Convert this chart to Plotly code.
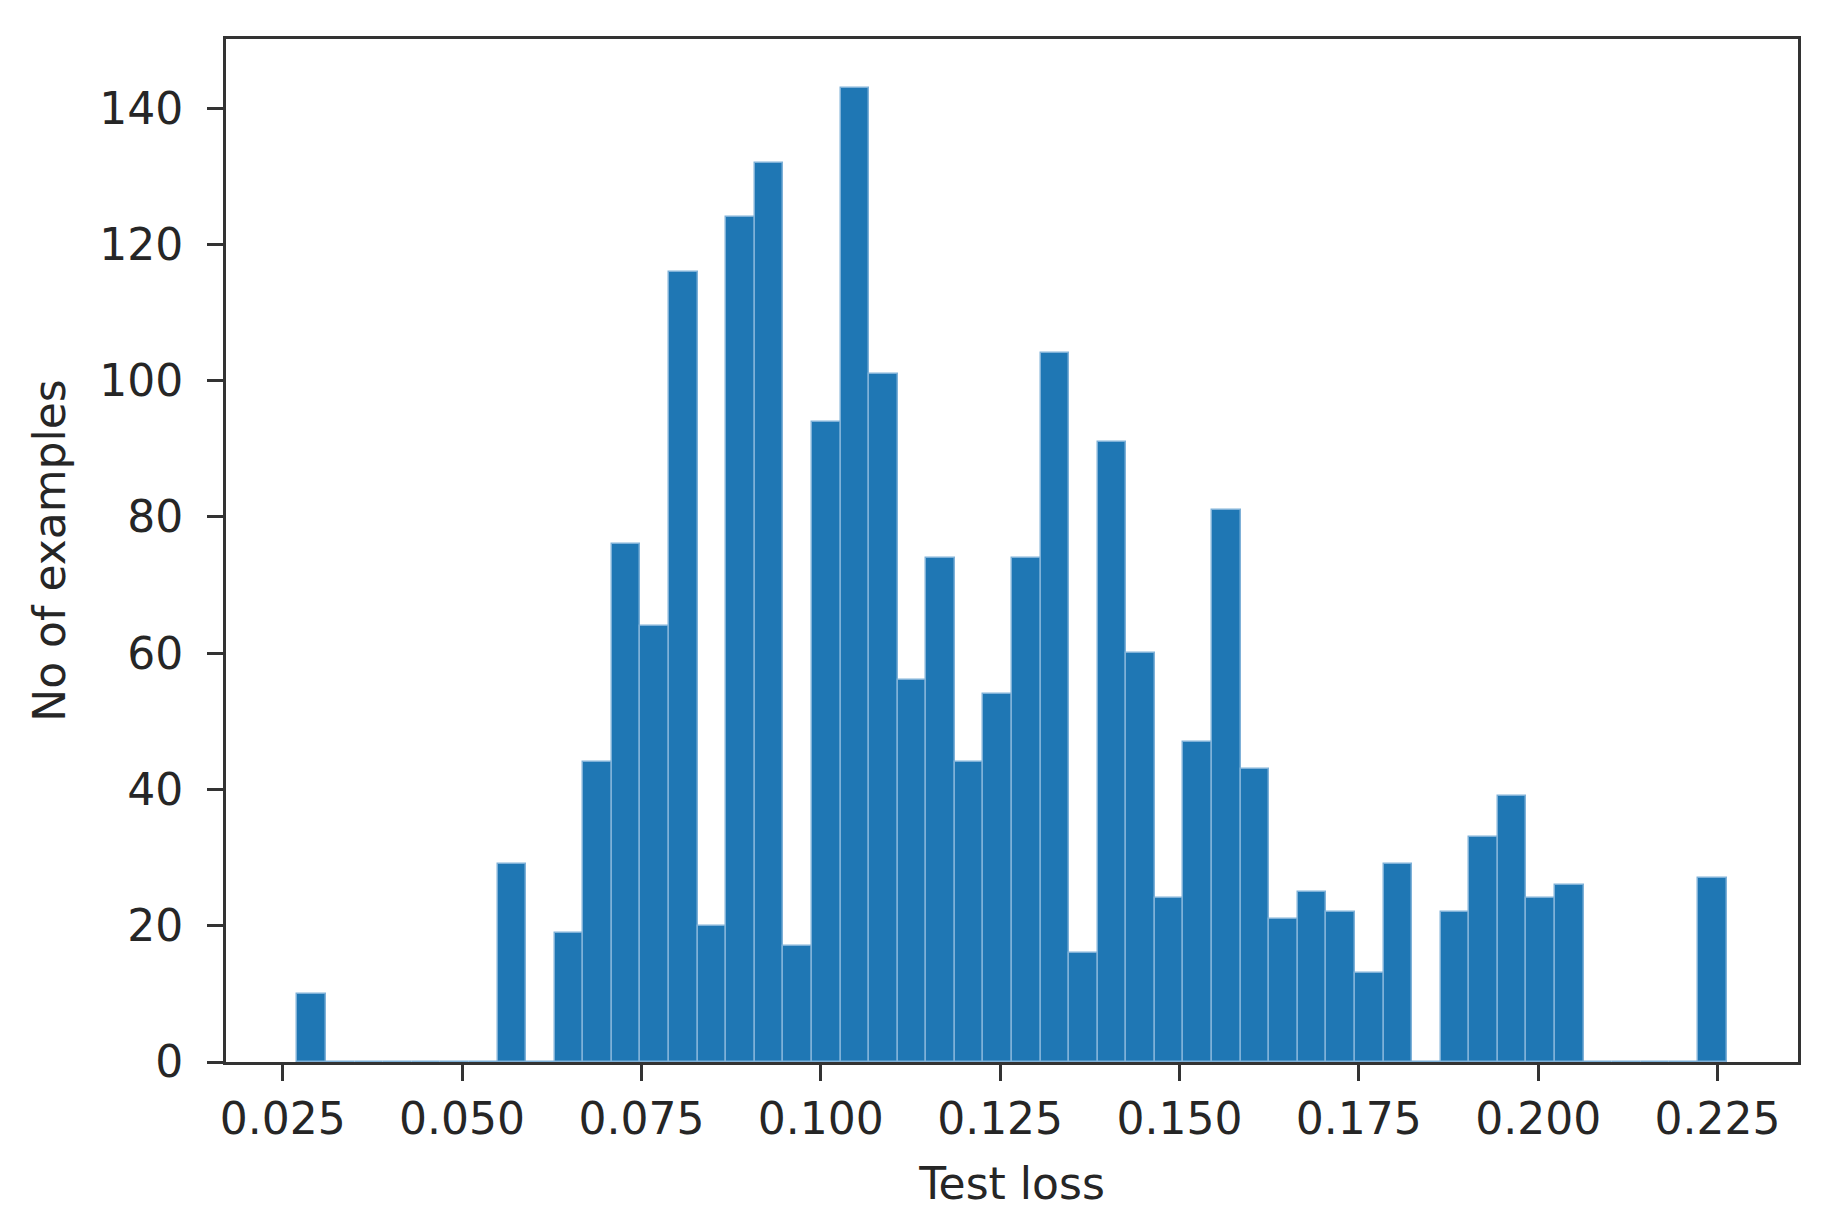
import numpy as np
import plotly.graph_objects as go

# histogram of test loss, 50 bins between the min and max loss
loss_min = 0.02705
loss_max = 0.22626
n_bins = 50
counts = [10, 0, 0, 0, 0, 0, 0, 29, 0, 19,
          44, 76, 64, 116, 20, 124, 132, 17, 94, 143,
          101, 56, 74, 44, 54, 74, 104, 16, 91, 60,
          24, 47, 81, 43, 21, 25, 22, 13, 29, 0,
          22, 33, 39, 24, 26, 0, 0, 0, 0, 27]
x_ticks = [0.025, 0.050, 0.075, 0.100, 0.125, 0.150, 0.175, 0.200, 0.225]
y_ticks = [0, 20, 40, 60, 80, 100, 120, 140]

edges = np.linspace(loss_min, loss_max, n_bins + 1)
centers = (edges[:-1] + edges[1:]) / 2
bin_w = edges[1] - edges[0]

fig = go.Figure(go.Bar(x=centers, y=counts, width=bin_w,
                       marker=dict(color='#1f77b4', line=dict(color='#7fb1d8', width=1.5))))

span = loss_max - loss_min
axis_font = dict(family='DejaVu Sans', size=44, color='#262626')
fig.update_xaxes(range=[loss_min - 0.05 * span, loss_max + 0.05 * span],
                 tickvals=x_ticks, tickformat='.3f',
                 showline=True, mirror=True, linecolor='#333', linewidth=3,
                 ticks='outside', ticklen=16, tickwidth=3, tickcolor='#333',
                 showgrid=False, zeroline=False, tickfont=axis_font,
                 ticklabelstandoff=0,
                 title=dict(text='Test loss', font=axis_font, standoff=26))
fig.update_yaxes(range=[0, max(counts) * 1.05], tickvals=y_ticks,
                 showline=True, mirror=True, linecolor='#333', linewidth=3,
                 ticks='outside', ticklen=16, tickwidth=3, tickcolor='#333',
                 showgrid=False, zeroline=False, tickfont=axis_font,
                 ticklabelstandoff=15,
                 title=dict(text='No of examples', font=axis_font, standoff=20))
# page body adds 8px, so margins are shifted to keep the plot box in place
fig.update_layout(width=1840, height=1228, bargap=0,
                  margin=dict(l=218, r=50, t=31, b=174),
                  plot_bgcolor='white', paper_bgcolor='white',
                  showlegend=False, font=axis_font)
fig.write_html("out.html")
